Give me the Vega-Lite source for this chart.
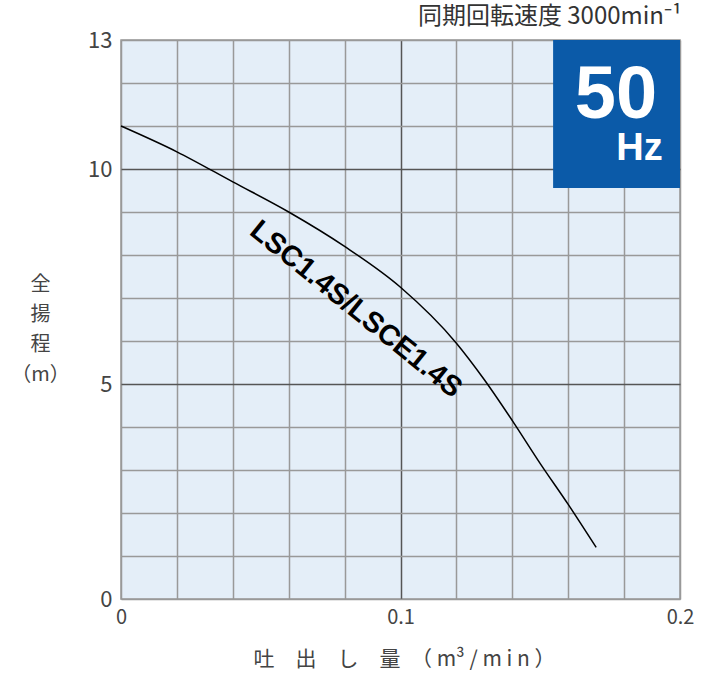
{
  "$schema": "https://vega.github.io/schema/vega-lite/v6.json",
  "width": 559,
  "height": 559,
  "autosize": "none",
  "padding": {"left": 121, "top": 40, "right": 40, "bottom": 80},
  "background": "white",
  "title": {
    "text": "同期回転速度 3000min⁻¹",
    "anchor": "end",
    "font": "Noto Sans CJK JP",
    "fontSize": 24,
    "fontWeight": "normal",
    "color": "#333",
    "offset": 0,
    "dx": -12
  },
  "datasets": {
    "curve": [
      {"q": 0, "h": 11.0},
      {"q": 0.02, "h": 10.4},
      {"q": 0.04, "h": 9.7},
      {"q": 0.06, "h": 9.0},
      {"q": 0.08, "h": 8.2},
      {"q": 0.1, "h": 7.25},
      {"q": 0.12, "h": 5.95},
      {"q": 0.13, "h": 5.1},
      {"q": 0.14, "h": 4.15},
      {"q": 0.15, "h": 3.15},
      {"q": 0.16, "h": 2.2},
      {"q": 0.17, "h": 1.2}
    ],
    "box": [{"q": 0.1546, "q2": 0.2, "h": 9.56, "h2": 13}],
    "labels": [
      {"q": 0.0841, "h": 6.74, "txt": "LSC1.4S/LSCE1.4S"}
    ],
    "badge": [
      {"q": 0.1771, "h": 11.19, "txt": "50", "size": 74},
      {"q": 0.1855, "h": 10.21, "txt": "Hz", "size": 38}
    ]
  },
  "layer": [
    {
      "data": {"name": "curve"},
      "mark": {"type": "line", "color": "black", "strokeWidth": 1.5, "interpolate": "monotone"},
      "encoding": {
        "x": {
          "field": "q",
          "type": "quantitative",
          "scale": {"domain": [0, 0.2], "nice": false},
          "axis": {
            "values": [0, 0.02, 0.04, 0.06, 0.08, 0.1, 0.12, 0.14, 0.16, 0.18, 0.2],
            "labelExpr": "datum.value == 0 ? '0' : (abs(datum.value - 0.1) < 1e-9 ? '0.1' : (abs(datum.value - 0.2) < 1e-9 ? '0.2' : ''))",
            "domain": false,
            "ticks": false,
            "grid": true,
            "gridColor": {"condition": {"test": "abs(datum.value - 0.1) < 1e-9", "value": "#555"}, "value": "#999"},
            "gridWidth": 1.5,
            "labelFont": "Noto Sans CJK JP",
            "labelFontSize": 20,
            "labelColor": "#444",
            "labelPadding": 8,
            "labelFlush": false,
            "title": "吐　出　し　量　（ m³ / m i n ）",
            "titleFont": "Noto Sans CJK JP",
            "titleFontSize": 21,
            "titleFontWeight": "normal",
            "titleColor": "#444",
            "titleX": 283,
            "titleY": 60,
            "titleAlign": "center",
            "titleBaseline": "middle"
          }
        },
        "y": {
          "field": "h",
          "type": "quantitative",
          "scale": {"domain": [0, 13], "nice": false},
          "axis": {
            "values": [0, 1, 2, 3, 4, 5, 6, 7, 8, 9, 10, 11, 12, 13],
            "labelExpr": "datum.value == 0 || datum.value == 5 || datum.value == 10 || datum.value == 13 ? datum.label : ''",
            "domain": false,
            "ticks": false,
            "grid": true,
            "gridColor": {"condition": {"test": "datum.value == 5 || datum.value == 10", "value": "#555"}, "value": "#999"},
            "gridWidth": 1.5,
            "labelFont": "Noto Sans CJK JP",
            "labelFontSize": 22,
            "labelColor": "#444",
            "labelPadding": 9,
            "labelFlush": false,
            "title": ["全", "揚", "程", "（m）"],
            "titleFont": "Noto Sans CJK JP",
            "titleFontSize": 20,
            "titleFontWeight": "normal",
            "titleColor": "#444",
            "titleAngle": 0,
            "titleAlign": "center",
            "titleBaseline": "top",
            "titleLineHeight": 30,
            "titleX": -81,
            "titleY": 234
          }
        }
      }
    },
    {
      "data": {"name": "box"},
      "mark": {"type": "rect", "color": "#0b5aa8"},
      "encoding": {
        "x": {"field": "q", "type": "quantitative"},
        "x2": {"field": "q2"},
        "y": {"field": "h", "type": "quantitative"},
        "y2": {"field": "h2"}
      }
    },
    {
      "data": {"name": "badge"},
      "mark": {"type": "text", "color": "white", "font": "Liberation Sans", "fontWeight": "bold", "align": "center", "baseline": "alphabetic"},
      "encoding": {
        "x": {"field": "q", "type": "quantitative"},
        "y": {"field": "h", "type": "quantitative"},
        "text": {"field": "txt"},
        "size": {"field": "size", "type": "quantitative", "scale": null, "legend": null}
      }
    },
    {
      "data": {"name": "labels"},
      "mark": {"type": "text", "color": "black", "font": "Liberation Sans", "fontWeight": "bold", "fontSize": 29, "angle": 39, "align": "center", "baseline": "middle"},
      "encoding": {
        "x": {"field": "q", "type": "quantitative"},
        "y": {"field": "h", "type": "quantitative"},
        "text": {"field": "txt"}
      }
    }
  ],
  "config": {
    "view": {"fill": "#e4eef8", "stroke": "#999", "strokeWidth": 1.5}
  }
}
